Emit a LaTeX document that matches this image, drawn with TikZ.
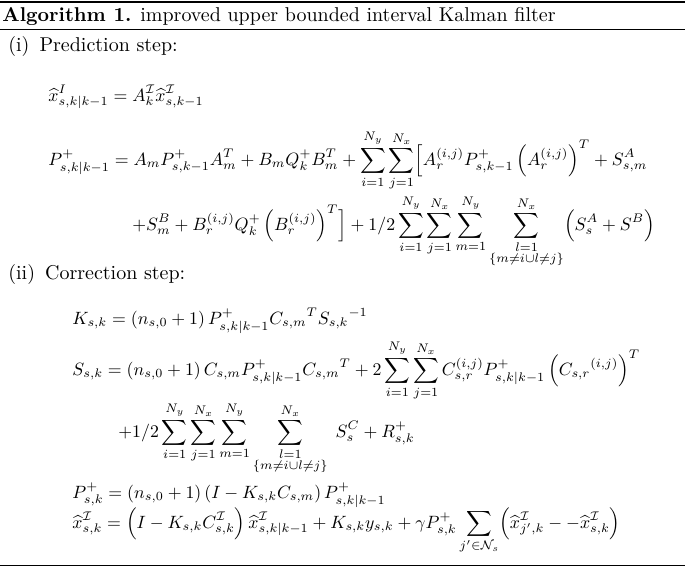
\documentclass[tikz,border=0pt]{standalone}
\usepackage{amsmath,amssymb,graphicx}
\newcommand{\meq}[1]{\scalebox{0.89}{$\displaystyle #1$}}
\begin{document}
\begin{tikzpicture}[x=0.5pt,y=-0.5pt,
  eq/.style={anchor=base west,inner sep=0pt},
  rule/.style={line width=#1}]
\useasboundingbox (0,0) rectangle (685,575);
\draw[rule=1.2pt] (0,2) -- (685,2);
\draw[rule=0.5pt] (0,29) -- (685,29);
\draw[rule=0.5pt] (0,565) -- (685,565);
\node[eq] (title) at (2,21) {\textbf{Algorithm 1.} improved upper bounded interval Kalman filter};
\node[eq] (pi) at (8,51) {(i)\enspace Prediction step:};
\node[eq] (e1) at (48,101) {\meq{\widehat{x}^{I}_{s,k|k-1}=A^{\mathcal{I}}_{k}\widehat{x}^{\mathcal{I}}_{s,k-1}}};
\node[eq] (e2) at (48,165) {\meq{P^{+}_{s,k|k-1}=A_mP^{+}_{s,k-1}A^{T}_{m}+B_mQ^{+}_{k}B^{T}_{m}+\sum_{i=1}^{N_y}\sum_{j=1}^{N_x}\Bigl[A_r^{(i,j)}P^{+}_{s,k-1}\,\Bigl(A_r^{(i,j)}\Bigr)^{T}+S^{A}_{s,m}}};
\node[eq] (e3) at (132,230) {\meq{+S^{B}_{m}+B_r^{(i,j)}Q^{+}_{k}\,\Bigl(B_r^{(i,j)}\Bigr)^{T}\Bigr]+1/2\sum_{i=1}^{N_y}\sum_{j=1}^{N_x}\sum_{m=1}^{N_y}\sum_{\substack{l=1\\\{m\neq i\cup l\neq j\}}}^{N_x}\Bigl(S^{A}_{s}+S^{B}\Bigr)}};
\node[eq] (pii) at (8,279) {(ii)\enspace Correction step:};
\node[eq] (e4) at (72,324) {\meq{K_{s,k}=\left(n_{s,0}+1\right)P^{+}_{s,k|k-1}{C_{s,m}}^{T}{S_{s,k}}^{-1}}};
\node[eq] (e5) at (72,375) {\meq{S_{s,k}=\left(n_{s,0}+1\right)C_{s,m}P^{+}_{s,k|k-1}{C_{s,m}}^{T}+2\sum_{i=1}^{N_y}\sum_{j=1}^{N_x}C_{s,r}^{(i,j)}P^{+}_{s,k|k-1}\,\Bigl({C_{s,r}}^{(i,j)}\Bigr)^{T}}};
\node[eq] (e6) at (118,437) {\meq{+1/2\sum_{i=1}^{N_y}\sum_{j=1}^{N_x}\sum_{m=1}^{N_y}\sum_{\substack{l=1\\\{m\neq i\cup l\neq j\}}}^{N_x}\;S^{C}_{s}+R^{+}_{s,k}}};
\node[eq] (e7) at (72,498) {\meq{P^{+}_{s,k}=\left(n_{s,0}+1\right)\left(I-K_{s,k}C_{s,m}\right)P^{+}_{s,k|k-1}}};
\node[eq] (e8) at (72,528) {\meq{\widehat{x}^{\mathcal{I}}_{s,k}=\Bigl(I-K_{s,k}C^{\mathcal{I}}_{s,k}\Bigr)\,\widehat{x}^{\mathcal{I}}_{s,k|k-1}+K_{s,k}y_{s,k}+\gamma P^{+}_{s,k}\sum_{j'\in\mathcal{N}_s}\Bigl(\widehat{x}^{\mathcal{I}}_{j',k}-{-}\widehat{x}^{\mathcal{I}}_{s,k}\Bigr)}};
\end{tikzpicture}
\end{document}
